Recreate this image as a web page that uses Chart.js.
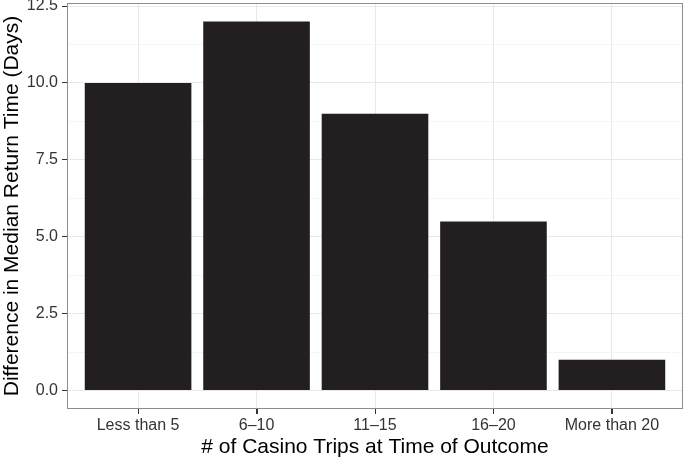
<!DOCTYPE html>
<html>
<head>
<meta charset="utf-8">
<script src="https://cdn.jsdelivr.net/npm/chart.js@4"></script>
<style>
  html, body { margin: 0; padding: 0; background: #fff; }
</style>
</head>
<body>
<canvas id="chart_trips" width="685" height="460"></canvas>
<script>
const categories = ['Less than 5', '6\u201310', '11\u201315', '16\u201320', 'More than 20'];
const diffDays = [10, 12, 9, 5.5, 1];
const yTicks = [0, 1.25, 2.5, 3.75, 5, 6.25, 7.5, 8.75, 10, 11.25, 12.5];

const FONT = '"Liberation Sans", Arial, Helvetica, sans-serif';

// panel border and outside tick marks, like ggplot's theme_bw
const panelBorder = {
    id: 'panelBorder',
    afterDraw(chart) {
        const a = chart.chartArea;
        const ctx = chart.ctx;
        ctx.save();
        ctx.strokeStyle = '#8c8c8c';
        ctx.lineWidth = 1;
        ctx.strokeRect(Math.round(a.left) + 0.5, Math.round(a.top) + 0.5,
            Math.round(a.right - a.left) - 1, Math.round(a.bottom - a.top) - 1);
        ctx.strokeStyle = '#333333';
        ctx.beginPath();
        chart.scales.x.ticks.forEach((t) => {
            const px = Math.round(chart.scales.x.getPixelForValue(t.value)) + 0.5;
            ctx.moveTo(px, Math.round(a.bottom));
            ctx.lineTo(px, Math.round(a.bottom) + 5);
        });
        ctx.stroke();
        ctx.restore();
    }
};

const isMajor = (v) => Math.abs(v / 2.5 - Math.round(v / 2.5)) < 1e-6;

const chart = new Chart(document.getElementById('chart_trips'), {
    type: 'bar',
    data: {
        datasets: [{
            data: diffDays.map((v, i) => ({ x: i + 1, y: v })),
            backgroundColor: '#231f20',
            borderWidth: 0,
            categoryPercentage: 1,
            barPercentage: 0.9,
        }]
    },
    options: {
        responsive: false,
        animation: false,
        devicePixelRatio: 1,
        layout: { padding: { top: 3, right: 2, left: 0, bottom: 0 } },
        plugins: {
            legend: { display: false },
            tooltip: { enabled: false },
        },
        scales: {
            x: {
                type: 'linear',
                min: 0.4,
                max: 5.6,
                offset: false,
                afterBuildTicks: (scale) => {
                    scale.ticks = categories.map((c, i) => ({ value: i + 1 }));
                },
                afterFit: (scale) => {
                    scale.height = 51;
                    scale.paddingLeft = 0;
                    scale.paddingRight = 0;
                },
                ticks: {
                    autoSkip: false,
                    maxRotation: 0,
                    padding: 2,
                    color: '#333333',
                    font: { family: FONT, size: 16 },
                    callback: (v) => categories[Math.round(v) - 1],
                },
                grid: {
                    offset: false,
                    color: '#e8e8e8',
                    tickColor: '#333333',
                    tickLength: 5,
                    lineWidth: 1,
                },
                border: { display: false },
                title: {
                    display: true,
                    text: '# of Casino Trips at Time of Outcome',
                    color: '#000',
                    font: { family: FONT, size: 21 },
                    padding: { top: 0, bottom: 0 },
                },
            },
            y: {
                min: -0.6,
                max: 12.6,
                afterBuildTicks: (scale) => {
                    scale.ticks = yTicks.map((v) => ({ value: v }));
                },
                afterFit: (scale) => {
                    scale.width = 67;
                    scale.paddingTop = 0;
                    scale.paddingBottom = 0;
                },
                ticks: {
                    padding: 4,
                    color: '#333333',
                    font: { family: FONT, size: 16 },
                    callback: (v) => isMajor(v) ? v.toFixed(1) : '',
                },
                grid: {
                    color: (ctx) => isMajor(ctx.tick.value) ? '#e8e8e8' : '#f5f5f5',
                    tickColor: (ctx) => isMajor(ctx.tick.value) ? '#333333' : 'rgba(0,0,0,0)',
                    tickLength: 5,
                    lineWidth: 1,
                },
                border: { display: false },
                title: {
                    display: true,
                    text: 'Difference in Median Return Time (Days)',
                    color: '#000',
                    font: { family: FONT, size: 21 },
                    padding: { top: 0, bottom: 0 },
                },
            },
        },
    },
    plugins: [panelBorder],
});
</script>
</body>
</html>
